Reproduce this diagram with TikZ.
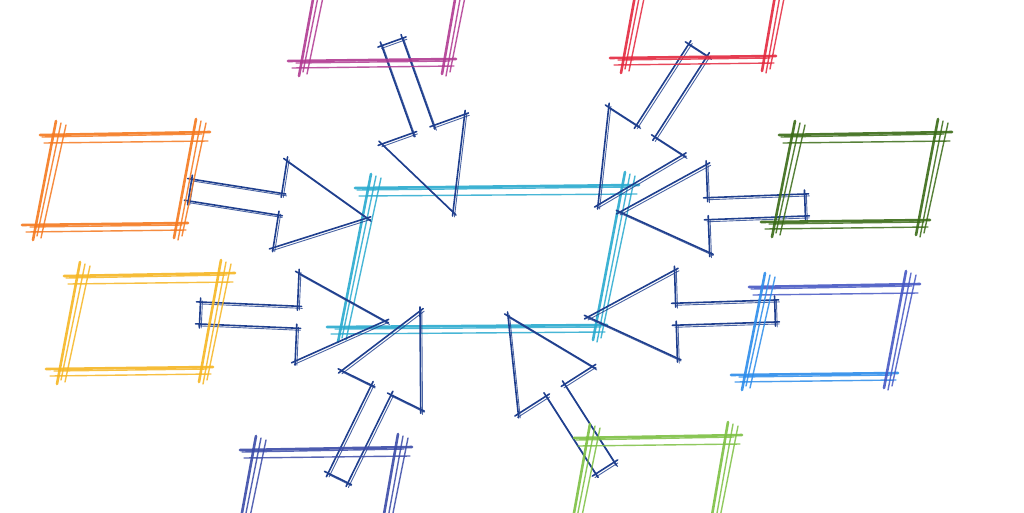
\documentclass[tikz,border=0pt]{standalone}
\usetikzlibrary{calc}

\definecolor{boxmag}{HTML}{B13A92}
\definecolor{boxred}{HTML}{E4293F}
\definecolor{boxorange}{HTML}{F5791F}
\definecolor{boxyellow}{HTML}{F6B623}
\definecolor{boxgreen}{HTML}{3A6B17}
\definecolor{boxblueA}{HTML}{4658C4}
\definecolor{boxblueB}{HTML}{2C8CEB}
\definecolor{boxindigo}{HTML}{3A4BA8}
\definecolor{boxlime}{HTML}{7DC043}
\definecolor{hubcyan}{HTML}{29AACF}
\definecolor{navy}{HTML}{1F3F8E}

% crayon box round an (invisible) node: node, top colour, bottom colour, lean
\newcommand\sketchbox[4]{%
  \draw[pencil, #2] ([shift={({#4-14},0)}]#1.north west) -- ([shift={({#4+12},-3)}]#1.north east);
  \draw[pencil thin, #2] ([shift={({#4-10},8)}]#1.north west) -- ([shift={({#4+10},6)}]#1.north east);
  \draw[pencil thin, #2] ([shift={({#4-12},2)}]#1.north west) -- ([shift={({#4+4},-1)}]#1.north east);
  \draw[pencil, #3] ([shift={(-14,-3)}]#1.south west) -- ([shift={(8,-5)}]#1.south east);
  \draw[pencil thin, #3] ([shift={(-10,4)}]#1.south west) -- ([shift={(6,2)}]#1.south east);
  \draw[pencil thin, #3] ([shift={(-6,-1)}]#1.south west) -- ([shift={(2,-3)}]#1.south east);
  \draw[pencil, #3] ([shift={({#4+2},-14)}]#1.north west) -- ([shift={(-3,12)}]#1.south west);
  \draw[pencil thin, #3] ([shift={({#4+12},-10)}]#1.north west) -- ([shift={(5,10)}]#1.south west);
  \draw[pencil thin, #3] ([shift={({#4+7},-12)}]#1.north west) -- ([shift={(1,8)}]#1.south west);
  \draw[pencil, #2] ([shift={({#4-2},-16)}]#1.north east) -- ([shift={(-6,10)}]#1.south east);
  \draw[pencil thin, #2] ([shift={({#4+8},-12)}]#1.north east) -- ([shift={(2,8)}]#1.south east);
  \draw[pencil thin, #2] ([shift={({#4+3},-14)}]#1.north east) -- ([shift={(-2,12)}]#1.south east);
}

% hollow block arrow from tail to tip, drawn twice by hand
\newcommand\sketcharrow[2]{%
  \coordinate (b) at ($(#2)!88pt!(#1)$);
  \coordinate (t1) at ($(#1)!11pt!90:(#2)$);
  \coordinate (t2) at ($(#1)!11pt!-90:(#2)$);
  \coordinate (s1) at ($(b)!11pt!90:(#2)$);
  \coordinate (s2) at ($(b)!11pt!-90:(#2)$);
  \coordinate (h1) at ($(b)!44pt!90:(#2)$);
  \coordinate (h2) at ($(b)!44pt!-90:(#2)$);
  \foreach \pa/\pb in {t1/s1, s1/h1, h1/#2, #2/h2, h2/s2, s2/t2, t2/t1}{
    \draw[pen] ($(\pa)!-4pt!(\pb)$) -- ($(\pb)!-4pt!(\pa)$);
    \draw[pen thin] ($(\pa)!-2pt!(\pb)+(1.8,2)$) -- ($(\pb)!-3pt!(\pa)+(1.8,2)$);
  }
}

\begin{document}
\begin{tikzpicture}[x=1pt, y=-1pt,
    area/.style={inner sep=0pt, outer sep=0pt},
    pencil/.style={line width=2.6pt, line cap=round, draw opacity=0.9},
    pencil thin/.style={line width=1.4pt, line cap=round, draw opacity=0.85},
    pen/.style={navy, line width=1.6pt, line cap=round},
    pen thin/.style={navy, line width=0.9pt, line cap=round, draw opacity=0.8}
]
\useasboundingbox (0,0) rectangle (1024,512);
\fill[white] (0,0) rectangle (1024,512);
\clip (0,0) rectangle (1024,512);

\foreach \nm/\cx/\cy/\w/\h in {topleft/375/14/146/100, topright/696/10.5/144/101,
    leftup/108/181.5/144/93, leftdown/132.5/324/145/96,
    rightup/848.5/180/147/90, rightdown/817.5/332.5/145/91,
    botleft/309/500/146/100, botright/641/489/142/102, hub/470/259/258/142}
  \node[area, minimum width=\w, minimum height=\h] (\nm) at (\cx,\cy) {};

\foreach \n/\tx/\ty/\hx/\hy in {A/392/42/453/212, B/698/50/598/205,
    C/190/190/367/218, D/200/313/385/321, E/805/205/620/212,
    F/775/311/588/317, G/338/478/420/311, H/605/468/508/316}{
  \coordinate (tail\n) at (\tx,\ty);
  \coordinate (tip\n) at (\hx,\hy);
}

\sketchbox{hub}{hubcyan}{hubcyan}{28}

\foreach \n in {A,B,C,D,E,F,G,H}{
  \sketcharrow{tail\n}{tip\n}
}

\foreach \nm/\ca/\cb in {topleft/boxmag/boxmag, topright/boxred/boxred,
    leftup/boxorange/boxorange, leftdown/boxyellow/boxyellow,
    rightup/boxgreen/boxgreen, rightdown/boxblueA/boxblueB,
    botleft/boxindigo/boxindigo, botright/boxlime/boxlime}{
  \sketchbox{\nm}{\ca}{\cb}{18}
}

\end{tikzpicture}
\end{document}
